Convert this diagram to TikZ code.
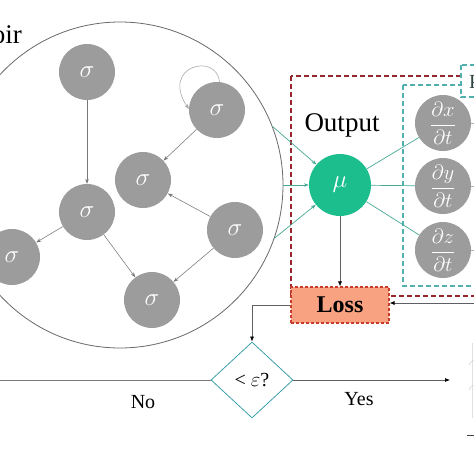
\documentclass[tikz,border=0pt]{standalone}
\usepackage{fontspec}
\setmainfont{Liberation Serif}
\usetikzlibrary{shapes.geometric,arrows.meta}
\definecolor{sgray}{RGB}{156,156,156}
\definecolor{egray}{RGB}{120,120,120}
\definecolor{cgray}{RGB}{105,105,105}
\definecolor{tealfill}{RGB}{28,190,142}
\definecolor{tealline}{RGB}{72,170,150}
\definecolor{tealdash}{RGB}{80,175,175}
\definecolor{reddash}{RGB}{150,40,45}
\definecolor{lossred}{RGB}{200,60,45}
\definecolor{salmon}{RGB}{248,162,130}
\definecolor{diamondc}{RGB}{60,160,170}
\definecolor{darkslate}{RGB}{50,70,70}
\begin{document}
\begin{tikzpicture}[x=1pt,y=1pt,
  sig/.style={circle,fill=sgray,minimum size=56pt,inner sep=0pt,text=white,font=\fontsize{30}{30}\selectfont},
  deriv/.style={circle,fill=sgray,minimum size=56pt,inner sep=0pt,text=white,font=\fontsize{21}{21}\selectfont},
  edge/.style={draw=egray,line width=0.55pt,-{Stealth[length=5pt,width=3.6pt]}},
  loopedge/.style={draw=sgray!90,line width=0.55pt,-{Stealth[length=5pt,width=3.6pt]}},
  tarrow/.style={draw=tealline,line width=0.7pt,-{Stealth[length=5pt,width=3.6pt]}},
  tline/.style={draw=tealline,line width=0.7pt},
  flow/.style={draw=egray!80!black,line width=0.7pt,-{Latex[length=5pt,width=4pt,color=black]}},
  plain/.style={draw=egray,line width=0.7pt},
  lbl/.style={font=\fontsize{20}{20}\selectfont}
]
\useasboundingbox (0,0) rectangle (474,-474);
\fill[white] (0,0) rectangle (474,-474);

% dashed frames
\draw[reddash,line width=1.2pt,dash pattern=on 5pt off 3pt] (291,-76) rectangle (500,-296);
\draw[tealdash,line width=1.2pt,dash pattern=on 5pt off 3pt] (403,-85) rectangle (500,-286);
\draw[tealdash,line width=1.2pt,dash pattern=on 5pt off 3pt,fill=white] (461,-65) rectangle (500,-97);
\node[anchor=base west,inner sep=0pt,text=darkslate,font=\fontsize{20}{20}\selectfont] (phys) at (469,-88) {Physics};

% reservoir
\node[circle,draw=cgray,line width=0.8pt,minimum size=326pt,inner sep=0pt] (res) at (120,-185) {};
\node[anchor=base east,inner sep=0pt,font=\fontsize{27}{27}\selectfont] (rlab) at (22,-43) {Reservoir};

\node[sig] (n1) at (87,-72) {$\sigma$};
\node[sig] (n2) at (217,-110) {$\sigma$};
\node[sig] (n3) at (143,-180) {$\sigma$};
\node[sig] (n4) at (87,-212) {$\sigma$};
\node[sig] (n5) at (235,-230) {$\sigma$};
\node[sig] (n6) at (152,-300) {$\sigma$};
\node[sig] (n7) at (12,-257) {$\sigma$};

\draw[edge] (n1) -- (n4);
\draw[edge] (n2) -- (n3);
\draw[edge] (n5) -- (n3);
\draw[edge] (n4) -- (n7);
\draw[edge] (n4) -- (n6);
\draw[edge] (n5) -- (n6);
\draw[loopedge] (n2.85) .. controls (217,-52) and (160,-66) .. (n2.178);

% output
\node[circle,fill=tealfill,minimum size=62pt,inner sep=0pt,text=white,font=\fontsize{30}{30}\selectfont] (mu) at (340,-185) {$\mu$};
\node[font=\fontsize{27}{27}\selectfont,inner sep=0pt] (out) at (342,-125) {Output};

\draw[tarrow] (res.21) -- (mu);
\draw[tarrow] (res.0) -- (mu);
\draw[tarrow] (res.-19) -- (mu);

\node[deriv] (d1) at (443,-123) {$\displaystyle\frac{\partial x}{\partial t}$};
\node[deriv] (d2) at (443,-186) {$\displaystyle\frac{\partial y}{\partial t}$};
\node[deriv] (d3) at (443,-250) {$\displaystyle\frac{\partial z}{\partial t}$};
\draw[tline] (mu) -- (d1);
\draw[tline] (mu) -- (d2);
\draw[tline] (mu) -- (d3);
\coordinate (e1) at (500,-123);
\coordinate (e2) at (500,-186);
\coordinate (e3) at (500,-250);
\draw[draw=sgray!80,line width=0.6pt] (d1) -- (e1);
\draw[draw=sgray!80,line width=0.6pt] (d2) -- (e2);
\draw[draw=sgray!80,line width=0.6pt] (d3) -- (e3);

% loss
\node[rectangle,fill=salmon,draw=lossred,line width=1.1pt,dash pattern=on 3pt off 2pt,minimum width=98pt,minimum height=36pt,inner sep=0pt,font=\fontsize{24}{24}\selectfont\bfseries] (loss) at (340,-305) {Loss};
\draw[flow] (mu) -- (loss);
\coordinate (rin) at (500,-303);
\draw[flow] (rin) -- (rin -| loss.east);

% decision
\node[diamond,draw=diamondc,line width=0.8pt,minimum width=82pt,minimum height=76pt,inner sep=0pt,font=\fontsize{20}{20}\selectfont] (dec) at (252,-380) {< $\varepsilon$?};
\draw[flow] (loss.west) -| (dec.north);
\coordinate (lend) at (-5,-380);
\draw[plain] (dec.west) -- (lend);
\coordinate (yend) at (450,-380);
\draw[flow] (dec.east) -- (yend);
\node[lbl] (no) at (143,-402) {No};
\node[lbl] (yes) at (359,-399) {Yes};

% partial figure at right edge
\draw[gray!25,line width=0.6pt] (472,-343) -- (472,-418);
\draw[gray!35,line width=0.5pt] (469,-365) .. controls (471,-361) and (473,-360) .. (476,-360);
\draw[gray!35,line width=0.5pt] (469,-390) .. controls (471,-386) and (473,-385) .. (476,-385);
\draw[black!75,line width=1pt] (467,-435) -- (480,-435);
\end{tikzpicture}
\end{document}
